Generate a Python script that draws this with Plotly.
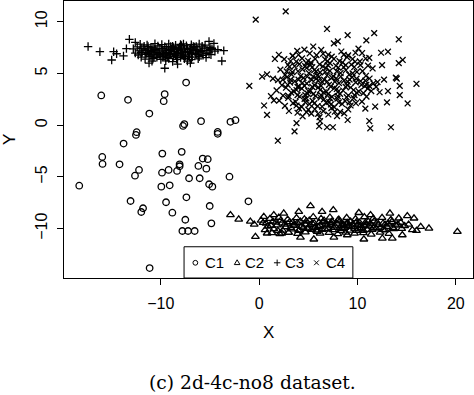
import plotly.graph_objects as go

# ---------------- data ----------------
series_names = ["C1", "C2", "C3", "C4"]

c1_points = [
    (-7.43, 4.12), (-16.06, 2.87), (-13.34, 2.45), (-9.61, 3.00), (-9.71, 2.32),
    (-11.17, 1.12), (-7.61, 0.10), (-7.74, -0.07), (-5.91, 0.39), (-2.92, 0.32),
    (-2.41, 0.48), (-12.46, -0.68), (-12.53, -0.94), (-4.22, -0.65), (-4.22, -0.84),
    (-13.79, -1.78), (-9.85, -2.75), (-7.88, -2.58), (-15.96, -3.07), (-15.93, -3.75),
    (-14.20, -3.78), (-8.09, -3.78), (-8.09, -3.97), (-5.74, -3.23), (-5.23, -3.29),
    (-6.18, -3.94), (-5.37, -4.20), (-12.22, -4.33), (-12.63, -4.88), (-9.88, -4.59),
    (-9.21, -4.33), (-8.35, -4.42), (-7.13, -5.13), (-6.05, -5.13), (-3.02, -4.98),
    (-18.30, -5.85), (-9.95, -5.94), (-9.10, -5.81), (-5.09, -5.71), (-4.76, -5.94),
    (-7.40, -6.97), (-13.08, -7.33), (-9.47, -7.45), (-5.03, -7.81), (-11.81, -8.03),
    (-11.99, -8.39), (-8.83, -8.46), (-1.09, -7.36), (-7.51, -9.14), (-4.86, -9.49),
    (-7.81, -10.23), (-7.23, -10.23), (-6.56, -10.23), (-11.14, -13.81),
]

c2_points = [
    (-2.92, -8.68), (-2.08, -9.10), (5.22, -7.81), (7.54, -8.20), (-0.38, -10.78),
    (0.81, -10.45), (2.30, -10.45), (4.20, -10.84), (5.56, -11.03), (7.60, -10.84),
    (0.47, -8.84), (1.49, -8.68), (2.50, -8.52), (4.03, -8.36), (6.40, -8.36),
    (10.14, -8.47), (11.33, -8.68), (13.30, -8.52), (14.20, -9.00), (15.07, -8.78),
    (15.75, -9.00), (16.43, -9.81), (17.27, -9.97), (20.16, -10.30), (15.58, -10.13),
    (14.56, -10.62), (13.54, -10.94), (12.53, -10.94), (10.65, -11.03), (8.96, -10.62),
    (-0.90, -9.30), (-0.50, -9.60), (0.20, -9.20), (16.00, -10.20), (15.20, -9.60),
    (1.1, -9.04), (2.0, -8.93), (2.9, -9.12), (3.8, -8.97), (4.6, -9.08), (5.5, -8.86),
    (6.3, -9.03), (7.2, -8.91), (8.1, -9.11), (8.9, -8.95), (9.8, -9.06), (10.7, -8.88),
    (11.6, -9.02), (12.5, -8.94), (13.4, -9.13),
    (0.4, -9.42), (1.4, -9.31), (2.3, -9.48), (3.1, -9.36), (3.9, -9.45), (4.8, -9.29),
    (5.6, -9.47), (6.5, -9.33), (7.3, -9.44), (8.2, -9.27), (9.0, -9.46), (9.9, -9.35),
    (10.8, -9.43), (11.7, -9.28), (12.6, -9.49), (13.5, -9.34), (14.4, -9.41),
    (0.9, -9.78), (1.8, -9.66), (2.7, -9.83), (3.5, -9.71), (4.3, -9.79), (5.2, -9.64),
    (6.0, -9.82), (6.9, -9.69), (7.7, -9.77), (8.6, -9.62), (9.4, -9.84), (10.3, -9.72),
    (11.2, -9.76), (12.1, -9.63), (13.0, -9.81), (13.9, -9.68), (14.8, -9.74),
    (0.6, -10.12), (1.5, -10.03), (2.4, -10.17), (3.3, -10.06), (4.1, -10.14), (5.0, -9.98),
    (5.8, -10.16), (6.7, -10.04), (7.5, -10.13), (8.4, -9.99), (9.2, -10.18), (10.1, -10.05),
    (11.0, -10.11), (11.9, -9.97), (12.8, -10.15), (13.7, -10.02),
    (1.3, -10.41), (2.1, -10.52), (3.0, -10.38), (3.9, -10.49), (4.7, -10.35), (6.2, -10.47),
    (7.1, -10.39), (8.0, -10.51), (8.8, -10.36), (9.7, -10.46), (10.6, -10.42), (11.4, -10.55),
    (12.3, -10.37), (13.2, -10.48),
    (3.6, -9.6), (4.5, -9.9), (5.4, -9.5), (6.2, -9.7), (7.0, -10.0), (7.9, -9.5),
    (8.7, -9.9), (9.5, -9.6), (10.4, -9.9), (11.3, -9.5), (6.6, -9.2), (8.4, -9.7),
    (9.9, -10.2), (5.9, -10.3), (4.0, -10.2), (7.4, -9.3), (10.9, -9.6), (12.3, -9.9),
    (2.6, -9.6), (1.9, -10.2),
    (2.2, -9.2), (3.2, -9.9), (4.2, -9.3), (4.9, -10.0), (5.1, -9.2), (5.7, -9.9),
    (6.4, -10.1), (6.8, -9.5), (7.6, -9.9), (8.0, -9.2), (8.3, -10.2), (8.9, -9.5),
    (9.3, -9.3), (9.7, -10.0), (10.2, -9.4), (10.6, -10.2), (11.1, -9.3), (11.6, -9.9),
    (12.0, -9.4), (12.6, -10.1), (13.1, -9.5), (13.6, -9.9), (14.1, -9.6), (14.5, -10.0),
    (3.4, -9.4), (4.7, -9.6), (5.3, -10.1), (6.1, -9.4), (7.3, -9.6), (8.6, -10.0),
    (9.1, -9.7), (10.0, -9.6), (10.7, -9.7), (11.5, -10.1), (12.8, -9.6), (1.2, -9.7),
    (0.7, -9.5), (1.7, -9.4),
]

c3_points = [
    (-17.4, 7.6), (-16.2, 7.1), (-14.8, 7.1), (-15.0, 6.3), (-14.5, 6.9), (-13.2, 8.3),
    (-13.8, 6.7), (-13.5, 7.4), (-9.6, 5.5), (-6.4, 7.6), (-3.8, 6.2), (-3.6, 7.2),
    (-4.6, 7.9), (-4.2, 7.3), (-5.1, 8.1), (-12.6, 8.0), (-8.3, 5.9), (-7.0, 6.0),
    (-11.2, 6.0),
    (-12.1, 7.83), (-11.4, 7.76), (-10.6, 7.88), (-9.9, 7.79), (-9.2, 7.85), (-8.5, 7.74),
    (-7.7, 7.86), (-6.9, 7.78), (-6.1, 7.84), (-5.5, 7.73),
    (-12.4, 7.57), (-11.7, 7.63), (-11.0, 7.54), (-10.3, 7.66), (-9.6, 7.58), (-8.8, 7.62),
    (-8.1, 7.55), (-7.4, 7.67), (-6.6, 7.56), (-5.8, 7.64), (-5.0, 7.53),
    (-12.8, 7.38), (-12.0, 7.43), (-11.3, 7.35), (-10.8, 7.46), (-10.1, 7.37), (-9.4, 7.44),
    (-8.9, 7.33), (-8.2, 7.42), (-7.6, 7.36), (-7.0, 7.47), (-6.3, 7.34), (-5.6, 7.45),
    (-4.8, 7.39),
    (-12.2, 7.18), (-11.6, 7.23), (-11.0, 7.14), (-10.5, 7.26), (-9.8, 7.17), (-9.2, 7.22),
    (-8.6, 7.13), (-8.0, 7.25), (-7.3, 7.16), (-6.7, 7.24), (-6.0, 7.12), (-5.3, 7.21),
    (-4.5, 7.15),
    (-12.6, 6.97), (-11.9, 7.03), (-11.3, 6.94), (-10.7, 7.06), (-10.2, 6.96), (-9.5, 7.04),
    (-9.0, 6.93), (-8.4, 7.05), (-7.8, 6.98), (-7.1, 7.02), (-6.5, 6.95), (-5.9, 7.07),
    (-5.1, 6.99),
    (-12.3, 6.78), (-11.5, 6.84), (-10.9, 6.76), (-10.3, 6.85), (-9.7, 6.77), (-9.1, 6.83),
    (-8.5, 6.74), (-7.9, 6.86), (-7.2, 6.79), (-6.4, 6.82), (-5.7, 6.75), (-4.9, 6.81),
    (-12.0, 6.57), (-11.1, 6.63), (-10.4, 6.55), (-9.8, 6.64), (-9.3, 6.56), (-8.7, 6.62),
    (-8.0, 6.54), (-7.5, 6.65), (-6.8, 6.58), (-6.1, 6.61), (-5.4, 6.53),
    (-11.6, 6.38), (-10.8, 6.43), (-10.0, 6.35), (-9.2, 6.44), (-8.4, 6.36), (-7.6, 6.42),
    (-6.9, 6.34), (-6.2, 6.41),
    (-10.9, 6.18), (-9.5, 6.22), (-8.8, 6.14), (-7.3, 6.19),
    (-10.4, 7.0), (-9.0, 7.3), (-8.3, 6.9), (-7.5, 7.1), (-9.7, 6.9), (-10.9, 7.2),
    (-6.8, 7.3), (-8.7, 7.5), (-11.5, 7.0), (-7.9, 7.7),
    (-12.0, 7.0), (-11.8, 7.4), (-11.2, 6.8), (-10.6, 7.3), (-10.1, 6.7), (-9.9, 7.4),
    (-9.4, 6.8), (-9.0, 7.6), (-8.6, 6.9), (-8.2, 7.3), (-7.7, 6.7), (-7.3, 7.4),
    (-6.9, 6.9), (-6.5, 7.3), (-6.2, 6.8), (-5.8, 7.2), (-5.4, 6.9), (-5.0, 7.3),
    (-10.7, 6.6), (-9.5, 6.5), (-8.3, 6.6), (-7.1, 6.6), (-11.3, 7.6), (-8.0, 7.8),
    (-6.7, 7.6),
]

c4_points = [
    (-0.35, 10.2), (2.7, 11.0), (6.9, 9.3), (-1.0, 3.8), (1.9, -1.5), (13.4, -0.2),
    (16.0, 4.0), (15.1, 2.1), (14.2, 8.3), (11.7, 8.9), (9.0, 8.7), (10.9, 8.2),
    (14.6, 6.3), (14.2, 6.0), (13.1, 7.1), (12.4, 7.0), (11.2, 6.5), (12.5, 5.8),
    (14.0, 4.5), (14.3, 3.8), (13.1, 3.3), (14.3, 2.9), (13.0, 2.2), (11.8, 1.8),
    (10.8, 1.6), (11.2, 0.4), (11.3, -0.3), (9.3, 1.9), (9.0, 0.5), (6.2, 0.4),
    (6.9, -0.2), (6.1, -0.1), (7.5, -0.2), (3.6, -0.6), (3.8, 0.2), (0.8, 1.0),
    (0.5, 1.9), (0.3, 4.7), (0.8, 4.9), (1.4, 4.5), (1.6, 6.4), (2.0, 6.8),
    (3.4, 6.7), (1.2, 2.8), (1.5, 2.4), (3.9, 1.2), (12.7, 4.4), (13.9, 4.6),
    (10.1, 7.4), (8.0, 8.1), (7.6, 7.9), (5.5, 7.6), (4.6, 7.3), (9.8, 7.0),
    (3.87, 7.18), (5.14, 6.93), (6.31, 7.27), (7.02, 6.81), (8.36, 7.12), (9.05, 6.74),
    (10.47, 6.97),
    (2.55, 6.38), (3.42, 6.71), (4.36, 6.46), (4.97, 6.22), (5.83, 6.77), (6.71, 6.35),
    (7.38, 6.62), (8.17, 6.19), (8.94, 6.58), (9.76, 6.13), (10.83, 6.44),
    (2.93, 5.82), (3.77, 6.15), (4.68, 5.71), (5.26, 6.04), (6.15, 5.88), (6.94, 6.19),
    (7.81, 5.74), (8.47, 6.06), (9.38, 5.85), (10.24, 6.17), (11.07, 5.76),
    (2.16, 5.37), (3.08, 5.64), (3.95, 5.21), (4.83, 5.53), (5.61, 5.33), (6.47, 5.68),
    (7.19, 5.25), (8.05, 5.57), (8.82, 5.31), (9.67, 5.62), (10.51, 5.22), (11.54, 5.48),
    (2.64, 4.86), (3.37, 5.13), (4.22, 4.74), (5.06, 5.02), (5.93, 4.83), (6.72, 5.16),
    (7.55, 4.71), (8.28, 5.04), (9.16, 4.88), (9.94, 5.14), (10.86, 4.77),
    (1.92, 4.35), (2.81, 4.63), (3.63, 4.24), (4.51, 4.57), (5.34, 4.38), (6.08, 4.66),
    (6.93, 4.22), (7.84, 4.53), (8.63, 4.31), (9.45, 4.64), (10.32, 4.26), (11.23, 4.51),
    (12.04, 4.17),
    (2.31, 3.86), (3.14, 4.12), (4.03, 3.75), (4.84, 4.03), (5.65, 3.84), (6.43, 4.15),
    (7.28, 3.72), (8.12, 4.06), (8.96, 3.87), (9.82, 4.13), (10.74, 3.78), (11.62, 4.04),
    (1.77, 3.36), (2.73, 3.62), (3.52, 3.27), (4.34, 3.54), (5.23, 3.33), (6.02, 3.66),
    (6.84, 3.24), (7.63, 3.57), (8.54, 3.35), (9.31, 3.64), (10.13, 3.26), (11.04, 3.53),
    (12.25, 3.18),
    (2.43, 2.86), (3.26, 3.14), (4.12, 2.77), (4.93, 3.05), (5.74, 2.83), (6.56, 3.16),
    (7.41, 2.74), (8.23, 3.03), (9.07, 2.87), (9.93, 3.12), (10.92, 2.76),
    (2.04, 2.37), (2.95, 2.63), (3.71, 2.26), (4.62, 2.54), (5.43, 2.35), (6.24, 2.67),
    (7.13, 2.24), (7.96, 2.56), (8.74, 2.33), (9.62, 2.61), (10.45, 2.27),
    (2.62, 1.86), (3.44, 2.13), (4.33, 1.77), (5.12, 2.04), (5.95, 1.85), (6.83, 2.16),
    (7.64, 1.74), (8.43, 2.05), (9.84, 2.12),
    (3.03, 1.37), (4.05, 1.63), (4.81, 1.26), (5.66, 1.54), (6.53, 1.36), (7.35, 1.65),
    (8.24, 1.28), (9.06, 1.52),
    (4.42, 0.86), (5.31, 1.12), (6.14, 0.77), (7.04, 1.03), (7.92, 0.88), (8.65, 1.14),
    (4.1, 5.9), (5.5, 4.7), (6.8, 5.5), (7.7, 4.2), (5.0, 3.3), (6.3, 3.8), (8.0, 3.2),
    (4.7, 2.9), (6.6, 2.5), (7.2, 6.0), (5.8, 5.2), (4.4, 4.1), (3.3, 4.9), (8.8, 5.8),
    (6.0, 4.3), (7.0, 3.0), (5.2, 5.8), (9.2, 4.4), (3.9, 3.7), (6.9, 4.8), (10.9, 3.9),
    (11.4, 3.3), (11.9, 3.7), (10.6, 3.1),
    (3.2, 6.2), (4.0, 6.8), (4.8, 6.0), (5.7, 6.4), (6.5, 6.9), (7.6, 6.4), (8.6, 6.8),
    (9.5, 6.4), (2.8, 5.2), (3.6, 5.7), (4.4, 5.4), (5.4, 5.6), (6.2, 5.1), (7.0, 5.8),
    (7.9, 5.2), (8.6, 5.6), (9.5, 5.0), (10.3, 5.8), (2.4, 4.4), (3.2, 4.4), (4.0, 4.4),
    (4.9, 4.7), (5.8, 4.5), (6.6, 4.4), (7.4, 4.6), (8.3, 4.7), (9.0, 4.2), (9.9, 4.5),
    (10.8, 4.3), (2.9, 3.9), (3.8, 3.4), (4.6, 3.8), (5.4, 3.7), (6.2, 3.4), (7.1, 3.9),
    (7.9, 3.5), (8.8, 3.7), (9.6, 3.4), (10.4, 3.9), (11.2, 3.8), (3.0, 2.8), (3.9, 2.9),
    (4.8, 2.6), (5.5, 3.0), (6.3, 2.9), (7.2, 2.6), (8.0, 2.8), (8.9, 2.7), (9.7, 2.9),
    (3.8, 1.9), (4.7, 2.2), (5.6, 2.1), (6.4, 1.8), (7.3, 2.0), (8.1, 2.2), (9.2, 2.2),
    (5.0, 1.5), (6.0, 1.1), (7.7, 1.3),
]

x_ticks = [-10, 0, 10, 20]
y_ticks = [-10, -5, 0, 5, 10]
x_range = [-19.85, 21.75]
y_range = [-14.77, 12.0]

# ---------------- figure ----------------
def xs(pts):
    return [p[0] for p in pts]

def ys(pts):
    return [p[1] for p in pts]

styles = {
    "C1": dict(symbol="circle-open", size=6.5),
    "C2": dict(symbol="triangle-up-open", size=6.8),
    "C3": dict(symbol="cross-thin-open", size=6.0),
    "C4": dict(symbol="x-thin-open", size=5.8),
}
all_points = {"C1": c1_points, "C2": c2_points, "C3": c3_points, "C4": c4_points}

fig = go.Figure()
for name in series_names:
    pts = all_points[name]
    st = styles[name]
    fig.add_trace(go.Scatter(
        x=xs(pts), y=ys(pts), mode="markers", name=name, showlegend=False,
        marker=dict(symbol=st["symbol"], size=st["size"], color="black",
                    line=dict(color="black", width=1.3)),
    ))

axis_font = dict(family="Liberation Sans, Arial, sans-serif", size=16, color="black")

fig.update_layout(
    width=474, height=395,
    margin=dict(l=64, r=1, t=1, b=117),
    paper_bgcolor="white", plot_bgcolor="white",
    font=axis_font,
    xaxis=dict(range=x_range, tickvals=x_ticks, ticks="outside", ticklen=6,
               tickwidth=1, tickcolor="black", showline=True, linecolor="black",
               linewidth=1, mirror=True, showgrid=False, zeroline=False,
               tickfont=axis_font, ticklabelstandoff=5),
    yaxis=dict(range=y_range, tickvals=y_ticks, ticks="outside", ticklen=6,
               tickwidth=1, tickcolor="black", showline=True, linecolor="black",
               linewidth=1, mirror=True, showgrid=False, zeroline=False,
               tickfont=axis_font, tickangle=-90, ticklabelstandoff=4),
)

# axis titles and caption
fig.add_annotation(text="X", xref="paper", yref="paper", x=0.4988, y=-0.195,
                   showarrow=False, font=dict(axis_font, size=17),
                   xanchor="center", yanchor="middle")
fig.add_annotation(text="Y", xref="paper", yref="paper", x=-0.133, y=0.5,
                   showarrow=False, font=dict(axis_font, size=17), textangle=-90,
                   xanchor="center", yanchor="middle")
fig.add_annotation(text="(c) 2d-4c-no8 dataset.", xref="paper", yref="paper",
                   x=0.462, y=-0.379, showarrow=False,
                   font=dict(family="DejaVu Serif, serif", size=18.7, color="black"),
                   xanchor="center", yanchor="middle")

# legend box (R-style, horizontal, at bottom)
fig.add_shape(type="rect", xref="x", yref="y", x0=-7.64, x1=9.53,
              y0=y_range[0], y1=-11.75, line=dict(color="black", width=1),
              fillcolor="white", layer="above")
leg_y = -13.3
key_x = [-6.49, -2.24, 1.83, 5.83]
text_x = [-5.67, -1.60, 2.47, 6.55]
key_line = dict(color="black", width=1)
fig.add_shape(type="circle", xref="x", yref="y", xsizemode="pixel", ysizemode="pixel",
              xanchor=key_x[0], yanchor=leg_y, x0=-2.4, x1=2.4, y0=-2.4, y1=2.4,
              line=key_line, layer="above")
fig.add_shape(type="path", xref="x", yref="y", xsizemode="pixel", ysizemode="pixel",
              xanchor=key_x[1], yanchor=leg_y, path="M-2.8,-1.8 L2.8,-1.8 L0,3.0 Z",
              line=key_line, layer="above")
fig.add_shape(type="path", xref="x", yref="y", xsizemode="pixel", ysizemode="pixel",
              xanchor=key_x[2], yanchor=leg_y, path="M-3.2,0 L3.2,0 M0,-3.2 L0,3.2",
              line=key_line, layer="above")
fig.add_shape(type="path", xref="x", yref="y", xsizemode="pixel", ysizemode="pixel",
              xanchor=key_x[3], yanchor=leg_y, path="M-2.4,-2.4 L2.4,2.4 M-2.4,2.4 L2.4,-2.4",
              line=key_line, layer="above")
for tx, name in zip(text_x, series_names):
    fig.add_annotation(text=name, xref="x", yref="y", x=tx, y=leg_y, showarrow=False,
                       font=dict(axis_font, size=15), xanchor="left", yanchor="middle")

fig.write_html("out.html", config={"displayModeBar": False},
               post_script="document.body.style.margin='0';document.body.style.overflow='hidden';")
